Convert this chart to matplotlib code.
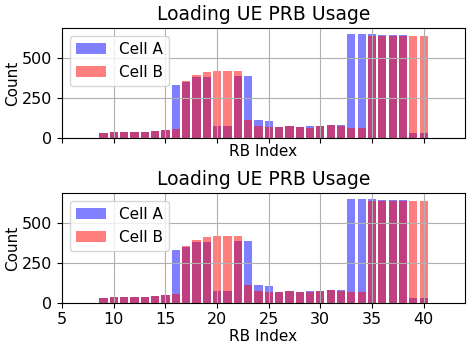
import numpy as np
import matplotlib
matplotlib.use('Agg')
import matplotlib.pyplot as plt

# RB indices and PRB usage counts per cell
rb_index = np.arange(9, 41)
cell_a = [30, 35, 35, 35, 35, 40, 45, 327, 348, 380, 380, 70, 70, 383, 383, 108,
          104, 67, 71, 67, 75, 75, 77, 79, 650, 650, 650, 642, 642, 642, 29, 29]
cell_b = [30, 35, 35, 35, 35, 40, 50, 52, 354, 390, 410, 415, 415, 415, 108, 73,
          67, 67, 70, 67, 63, 71, 77, 75, 63, 63, 633, 633, 633, 633, 633, 633]

fig, axes = plt.subplots(2, 1, figsize=(4.74, 3.51), dpi=100, sharex=True)
fig.subplots_adjust(left=0.131, right=0.981, top=0.919, bottom=0.138,
                    hspace=0.51)

for ax in axes:
    ax.bar(rb_index, cell_a, width=0.8, color='blue', alpha=0.5, label='Cell A')
    ax.bar(rb_index, cell_b, width=0.8, color='red', alpha=0.5, label='Cell B')
    ax.set_title('Loading UE PRB Usage', fontsize=13.5)
    ax.set_xlabel('RB Index', fontsize=11, labelpad=1)
    ax.set_ylabel('Count', fontsize=11, labelpad=1)
    ax.set_yticks([0, 250, 500])
    ax.set_xlim(5, 44)
    ax.tick_params(labelsize=11.5)
    ax.grid(True)
    ax.legend(loc='upper left', fontsize=11)

plt.savefig('out.png', dpi=100)
